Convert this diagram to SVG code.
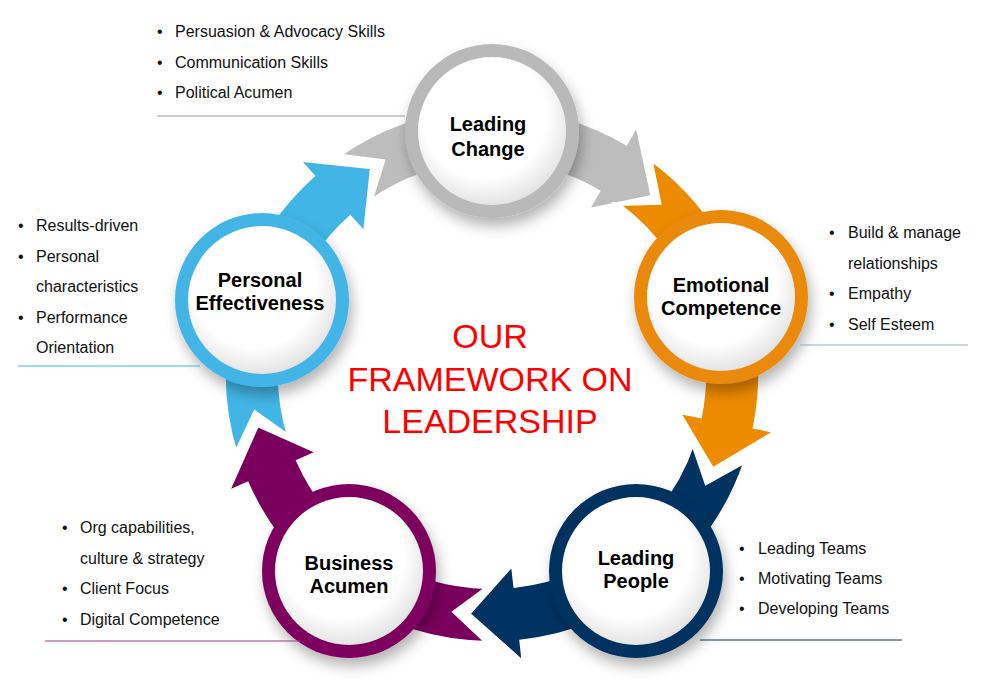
<svg xmlns="http://www.w3.org/2000/svg" width="986" height="694" viewBox="0 0 986 694">
<defs>
<filter id="sh" x="-30%" y="-30%" width="160%" height="170%"><feDropShadow dx="3" dy="8" stdDeviation="7" flood-color="#000" flood-opacity="0.3"/></filter>
<radialGradient id="wg" cx="45%" cy="40%" r="60%"><stop offset="0.7" stop-color="#fff"/><stop offset="1" stop-color="#e4e4e4"/></radialGradient>
</defs>
<style>
.b{font-family:"Liberation Sans",Arial,sans-serif;font-size:16px;fill:#111}
.l{font-family:"Liberation Sans",Arial,sans-serif;font-size:20px;font-weight:bold;fill:#000;text-anchor:middle}
.t{font-family:"Liberation Sans",Arial,sans-serif;font-size:34px;fill:#f00;text-anchor:middle}
.a{stroke:#fff;stroke-width:4;stroke-linejoin:miter}
.w{fill:url(#wg)}
</style>
<rect width="986" height="694" fill="#fff"/>
<g id="connectors">
<path class="a" fill="#bdbdbd" d="M338.3,155.5 A268,268 0 0 1 626,142.9 L637,123.9 L652.6,196.7 L587,210.5 L598,191.4 A212,212 0 0 0 370.4,201.3 L383,161.2 Z"/>
<path class="a" fill="#ec8a00" d="M650.3,158.7 A268,268 0 0 1 754.9,427 L776.5,431.3 L712.6,469.5 L678.4,411.9 L700,416.2 A212,212 0 0 0 617.2,203.9 L659.3,202.9 Z"/>
<path class="a" fill="#003362" d="M745.8,460.9 A268,268 0 0 1 521.4,641.4 L523.8,663.3 L468.2,613.8 L512.8,563.9 L515.3,585.7 A212,212 0 0 0 692.8,443 L706.4,482.8 Z"/>
<path class="a" fill="#7a005e" d="M487.3,642.9 A268,268 0 0 1 247.2,484 L227.1,492.9 L257.3,424.9 L318.4,452.3 L298.3,461.2 A212,212 0 0 0 488.3,587 L454.5,612 Z"/>
<path class="a" fill="#42b5e6" d="M235.7,453.4 A268,268 0 0 1 312.7,175.8 L298,159.5 L372,167.2 L364.9,233.8 L350.2,217.5 A212,212 0 0 0 289.3,437 L255,412.5 Z"/>
</g>
<g id="leading-change"><circle cx="492" cy="131" r="87" fill="#b9b9b9" filter="url(#sh)"/><circle class="w" cx="492" cy="131" r="74"/><text class="l" x="488" y="131">Leading</text><text class="l" x="488" y="156">Change</text></g>
<g id="emotional-competence"><circle cx="721" cy="297" r="87" fill="#ea8a0a" filter="url(#sh)"/><circle class="w" cx="721" cy="297" r="74"/><text class="l" x="721" y="292">Emotional</text><text class="l" x="721" y="315">Competence</text></g>
<g id="leading-people"><circle cx="636" cy="571" r="87" fill="#00315f" filter="url(#sh)"/><circle class="w" cx="636" cy="571" r="74"/><text class="l" x="636" y="565">Leading</text><text class="l" x="636" y="588">People</text></g>
<g id="business-acumen"><circle cx="349" cy="571" r="87" fill="#7d005f" filter="url(#sh)"/><circle class="w" cx="349" cy="571" r="74"/><text class="l" x="349" y="570">Business</text><text class="l" x="349" y="593">Acumen</text></g>
<g id="personal-effectiveness"><circle cx="262" cy="300" r="87" fill="#42b5e6" filter="url(#sh)"/><circle class="w" cx="262" cy="300" r="74"/><text class="l" x="260" y="287">Personal</text><text class="l" x="260" y="310">Effectiveness</text></g>
<g id="title"><text class="t" x="490" y="348">OUR</text><text class="t" x="490" y="391">FRAMEWORK ON</text><text class="t" x="490" y="433">LEADERSHIP</text></g>
<g id="list-top"><text class="b" x="157" y="37">•</text><text class="b" x="175" y="37">Persuasion &amp; Advocacy Skills</text><text class="b" x="157" y="68">•</text><text class="b" x="175" y="68">Communication Skills</text><text class="b" x="157" y="98">•</text><text class="b" x="175" y="98">Political Acumen</text><line x1="157" y1="116" x2="405" y2="116" stroke="#bbb" stroke-width="1.5"/></g>
<g id="list-ec"><text class="b" x="829" y="238">•</text><text class="b" x="848" y="238">Build &amp; manage</text><text class="b" x="848" y="269">relationships</text><text class="b" x="829" y="299">•</text><text class="b" x="848" y="299">Empathy</text><text class="b" x="829" y="330">•</text><text class="b" x="848" y="330">Self Esteem</text><line x1="800" y1="345" x2="968" y2="345" stroke="#9ab" stroke-width="1"/></g>
<g id="list-pe"><text class="b" x="18" y="231">•</text><text class="b" x="36" y="231">Results-driven</text><text class="b" x="18" y="262">•</text><text class="b" x="36" y="262">Personal</text><text class="b" x="36" y="292">characteristics</text><text class="b" x="18" y="323">•</text><text class="b" x="36" y="323">Performance</text><text class="b" x="36" y="353">Orientation</text><line x1="18" y1="366" x2="200" y2="366" stroke="#42b5e6" stroke-width="1"/></g>
<g id="list-ba"><text class="b" x="62" y="533">•</text><text class="b" x="80" y="533">Org capabilities,</text><text class="b" x="80" y="564">culture &amp; strategy</text><text class="b" x="62" y="594">•</text><text class="b" x="80" y="594">Client Focus</text><text class="b" x="62" y="625">•</text><text class="b" x="80" y="625">Digital Competence</text><line x1="45" y1="641" x2="300" y2="641" stroke="#9a3a88" stroke-width="1"/></g>
<g id="list-lp"><text class="b" x="739" y="554">•</text><text class="b" x="758" y="554">Leading Teams</text><text class="b" x="739" y="584">•</text><text class="b" x="758" y="584">Motivating Teams</text><text class="b" x="739" y="614">•</text><text class="b" x="758" y="614">Developing Teams</text><line x1="700" y1="640" x2="902" y2="640" stroke="#003362" stroke-width="1"/></g>
</svg>
